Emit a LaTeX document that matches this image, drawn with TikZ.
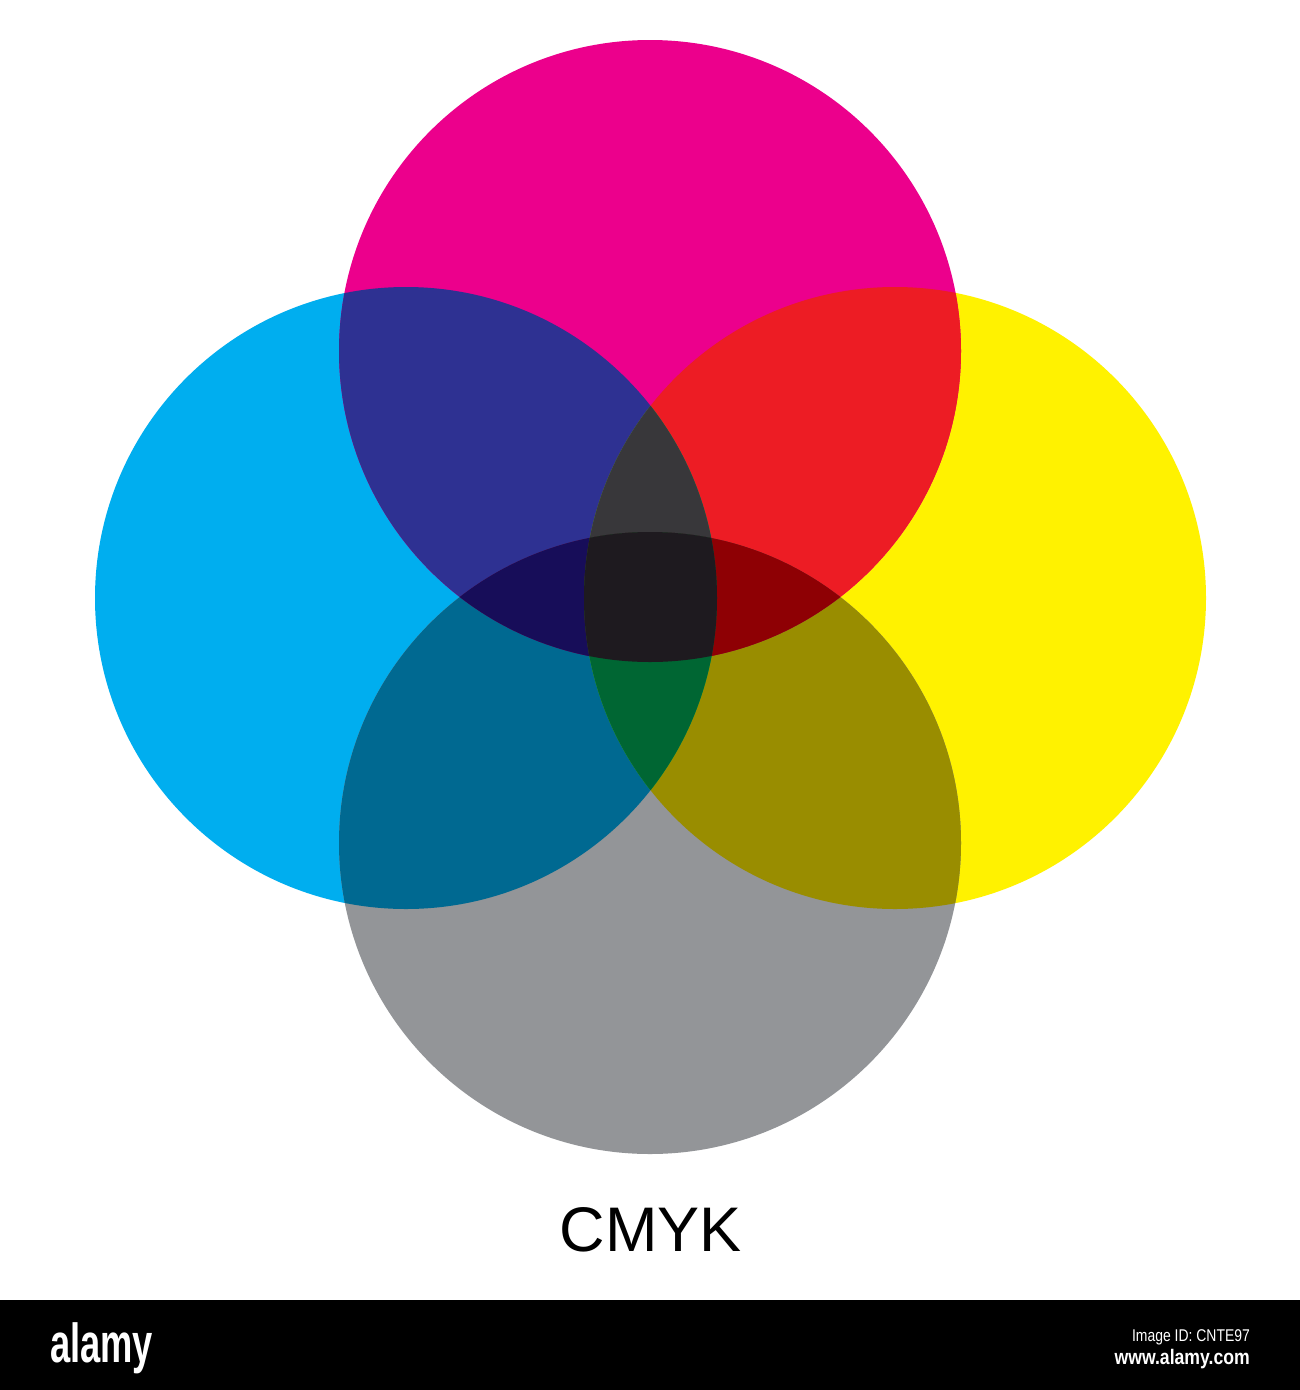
\documentclass[tikz,border=0pt]{standalone}
\usepackage{fontspec}
\setmainfont{Liberation Sans}
\definecolor{cC}{HTML}{00AEEF}
\definecolor{cM}{HTML}{EC008C}
\definecolor{cY}{HTML}{FFF200}
\definecolor{cK}{HTML}{939598}
\definecolor{cCM}{HTML}{2E3192}
\definecolor{cMY}{HTML}{ED1C24}
\definecolor{cCY}{HTML}{00A651}
\definecolor{cCK}{HTML}{006991}
\definecolor{cYK}{HTML}{998D00}
\definecolor{cMK}{HTML}{8E0152}
\definecolor{cCMY}{HTML}{38373A}
\definecolor{cCMK}{HTML}{170D59}
\definecolor{cMYK}{HTML}{8E0004}
\definecolor{cCYK}{HTML}{006633}
\definecolor{cAll}{HTML}{1E1A1F}
\tikzset{
  disc/.style={radius=311pt},
  label/.style={inner sep=0pt, text=black},
}
\begin{document}
\begin{tikzpicture}[x=1pt,y=-1pt]
\useasboundingbox (0,0) rectangle (1300,1390);
\fill[white] (0,0) rectangle (1300,1390);
\coordinate (C) at (406,598);
\coordinate (M) at (650,351);
\coordinate (Y) at (895,598);
\coordinate (K) at (650,843);
% single discs
\fill[cC,disc] (C) circle;
\fill[cY,disc] (Y) circle;
\fill[cK,disc] (K) circle;
\fill[cM,disc] (M) circle;
% pairs
\begin{scope}\clip[disc] (C) circle; \fill[cCM,disc] (M) circle;\end{scope}
\begin{scope}\clip[disc] (M) circle; \fill[cMY,disc] (Y) circle;\end{scope}
\begin{scope}\clip[disc] (C) circle; \fill[cCK,disc] (K) circle;\end{scope}
\begin{scope}\clip[disc] (Y) circle; \fill[cYK,disc] (K) circle;\end{scope}
\begin{scope}\clip[disc] (C) circle; \fill[cCY,disc] (Y) circle;\end{scope}
\begin{scope}\clip[disc] (M) circle; \fill[cMK,disc] (K) circle;\end{scope}
% triples
\begin{scope}\clip[disc] (C) circle; \clip[disc] (M) circle; \fill[cCMY,disc] (Y) circle;\end{scope}
\begin{scope}\clip[disc] (C) circle; \clip[disc] (M) circle; \fill[cCMK,disc] (K) circle;\end{scope}
\begin{scope}\clip[disc] (M) circle; \clip[disc] (Y) circle; \fill[cMYK,disc] (K) circle;\end{scope}
\begin{scope}\clip[disc] (C) circle; \clip[disc] (Y) circle; \fill[cCYK,disc] (K) circle;\end{scope}
% all four
\begin{scope}\clip[disc] (C) circle; \clip[disc] (M) circle; \clip[disc] (Y) circle; \fill[cAll,disc] (K) circle;\end{scope}
% caption
\node[label, anchor=base] (title) at (651,1251) {\fontsize{63}{63}\selectfont CMYK};
% bottom bar
\fill[black] (0,1300) rectangle (1300,1390);
\node[label, text=white, anchor=base west, xscale=0.66] (logo) at (50,1362) {\fontsize{55}{55}\selectfont\bfseries alamy};
\node[label, text=white, anchor=base east, xscale=0.82] (imgid) at (1250,1341) {\fontsize{17}{17}\selectfont Image ID: CNTE97};
\node[label, text=white, anchor=base east, xscale=0.84] (www) at (1250,1364) {\fontsize{21}{21}\selectfont\bfseries www.alamy.com};
\end{tikzpicture}
\end{document}
